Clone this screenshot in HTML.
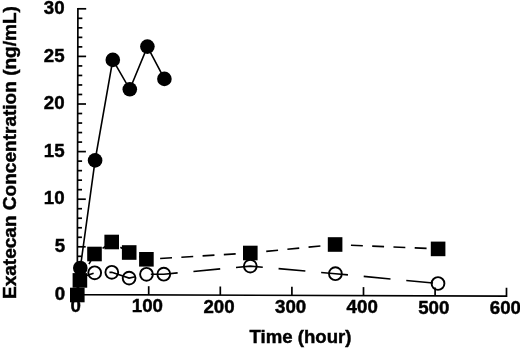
<!DOCTYPE html><html><head><meta charset="utf-8"><style>html,body{margin:0;padding:0;background:#fff;overflow:hidden;}svg{display:block;}</style></head><body>
<svg width="520" height="348" viewBox="0 0 520 348">
<defs><filter id="b" x="-5%" y="-5%" width="110%" height="110%"><feGaussianBlur stdDeviation="0.3"/></filter></defs>
<rect width="520" height="348" fill="#fff"/>
<g filter="url(#b)">
<g stroke="#000" fill="none">
<polyline stroke-width="1.7" points="77.90,8.00 77.30,294.60 506.5,296.20 506.5,287.80"/>
<line stroke-width="1.7" x1="77.90" y1="8.80" x2="86.20" y2="8.80"/>
<line stroke-width="1.7" x1="77.88" y1="18.32" x2="82.38" y2="18.32"/>
<line stroke-width="1.7" x1="77.86" y1="27.84" x2="82.36" y2="27.84"/>
<line stroke-width="1.7" x1="77.84" y1="37.36" x2="82.34" y2="37.36"/>
<line stroke-width="1.7" x1="77.82" y1="46.88" x2="82.32" y2="46.88"/>
<line stroke-width="1.7" x1="77.80" y1="56.40" x2="86.10" y2="56.40"/>
<line stroke-width="1.7" x1="77.78" y1="65.92" x2="82.28" y2="65.92"/>
<line stroke-width="1.7" x1="77.76" y1="75.44" x2="82.26" y2="75.44"/>
<line stroke-width="1.7" x1="77.74" y1="84.96" x2="82.24" y2="84.96"/>
<line stroke-width="1.7" x1="77.72" y1="94.48" x2="82.22" y2="94.48"/>
<line stroke-width="1.7" x1="77.70" y1="104.00" x2="86.00" y2="104.00"/>
<line stroke-width="1.7" x1="77.68" y1="113.52" x2="82.18" y2="113.52"/>
<line stroke-width="1.7" x1="77.66" y1="123.04" x2="82.16" y2="123.04"/>
<line stroke-width="1.7" x1="77.64" y1="132.56" x2="82.14" y2="132.56"/>
<line stroke-width="1.7" x1="77.62" y1="142.08" x2="82.12" y2="142.08"/>
<line stroke-width="1.7" x1="77.60" y1="151.60" x2="85.90" y2="151.60"/>
<line stroke-width="1.7" x1="77.58" y1="161.12" x2="82.08" y2="161.12"/>
<line stroke-width="1.7" x1="77.56" y1="170.64" x2="82.06" y2="170.64"/>
<line stroke-width="1.7" x1="77.54" y1="180.16" x2="82.04" y2="180.16"/>
<line stroke-width="1.7" x1="77.52" y1="189.68" x2="82.02" y2="189.68"/>
<line stroke-width="1.7" x1="77.50" y1="199.20" x2="85.80" y2="199.20"/>
<line stroke-width="1.7" x1="77.48" y1="208.72" x2="81.98" y2="208.72"/>
<line stroke-width="1.7" x1="77.46" y1="218.24" x2="81.96" y2="218.24"/>
<line stroke-width="1.7" x1="77.44" y1="227.76" x2="81.94" y2="227.76"/>
<line stroke-width="1.7" x1="77.42" y1="237.28" x2="81.92" y2="237.28"/>
<line stroke-width="1.7" x1="77.40" y1="246.80" x2="85.70" y2="246.80"/>
<line stroke-width="1.7" x1="77.38" y1="256.32" x2="81.88" y2="256.32"/>
<line stroke-width="1.7" x1="77.36" y1="265.84" x2="81.86" y2="265.84"/>
<line stroke-width="1.7" x1="77.34" y1="275.36" x2="81.84" y2="275.36"/>
<line stroke-width="1.7" x1="77.32" y1="284.88" x2="81.82" y2="284.88"/>
<line stroke-width="1.7" x1="148.70" y1="294.70" x2="148.70" y2="286.20"/>
<line stroke-width="1.7" x1="220.30" y1="295.00" x2="220.30" y2="286.50"/>
<line stroke-width="1.7" x1="291.90" y1="295.30" x2="291.90" y2="286.80"/>
<line stroke-width="1.7" x1="363.50" y1="295.60" x2="363.50" y2="287.10"/>
<line stroke-width="1.7" x1="435.10" y1="295.90" x2="435.10" y2="287.40"/>
</g>
<polyline points="77.4,294.7 80.3,268.0 95.1,160.4 112.8,59.9 129.8,89.3 147.4,46.6 164.4,78.9" fill="none" stroke="#000" stroke-width="1.6"/>
<polyline points="77.5,294.7 80.0,277.7 94.7,272.8 111.8,272.3 129.1,278.1 146.5,274.3 163.8,274.2 250.3,266.1 335.4,273.7 438.0,283.5" fill="none" stroke="#000" stroke-width="1.6" stroke-dasharray="26.9 15.85" stroke-dashoffset="38.1"/>
<polyline points="77.3,295.0 79.9,280.4 94.5,254.0 111.7,242.0 129.2,252.5 146.4,259.3 250.3,253.0 335.1,244.5 438.1,248.9" fill="none" stroke="#000" stroke-width="1.6" stroke-dasharray="11.9 9.37" stroke-dashoffset="9.0"/>
<circle cx="94.7" cy="272.8" r="6.4" fill="none" stroke="#000" stroke-width="1.9"/>
<circle cx="111.8" cy="272.3" r="6.4" fill="none" stroke="#000" stroke-width="1.9"/>
<circle cx="129.1" cy="278.1" r="6.4" fill="none" stroke="#000" stroke-width="1.9"/>
<circle cx="146.5" cy="274.3" r="6.4" fill="none" stroke="#000" stroke-width="1.9"/>
<circle cx="163.8" cy="274.2" r="6.4" fill="none" stroke="#000" stroke-width="1.9"/>
<circle cx="250.3" cy="266.1" r="6.4" fill="none" stroke="#000" stroke-width="1.9"/>
<circle cx="335.4" cy="273.7" r="6.4" fill="none" stroke="#000" stroke-width="1.9"/>
<circle cx="438" cy="283.5" r="6.4" fill="none" stroke="#000" stroke-width="1.9"/>
<circle cx="80.3" cy="268" r="7.3" fill="#000"/>
<circle cx="95.1" cy="160.4" r="7.3" fill="#000"/>
<circle cx="112.8" cy="59.9" r="7.3" fill="#000"/>
<circle cx="129.8" cy="89.3" r="7.3" fill="#000"/>
<circle cx="147.4" cy="46.6" r="7.3" fill="#000"/>
<circle cx="164.4" cy="78.9" r="7.3" fill="#000"/>
<rect x="70.00" y="287.70" width="14.6" height="14.6" fill="#000"/>
<rect x="72.60" y="273.10" width="14.6" height="14.6" fill="#000"/>
<rect x="87.20" y="246.70" width="14.6" height="14.6" fill="#000"/>
<rect x="104.40" y="234.70" width="14.6" height="14.6" fill="#000"/>
<rect x="121.90" y="245.20" width="14.6" height="14.6" fill="#000"/>
<rect x="139.10" y="252.00" width="14.6" height="14.6" fill="#000"/>
<rect x="243.00" y="245.70" width="14.6" height="14.6" fill="#000"/>
<rect x="327.80" y="237.20" width="14.6" height="14.6" fill="#000"/>
<rect x="430.80" y="241.60" width="14.6" height="14.6" fill="#000"/>
<g font-family="'Liberation Sans', sans-serif" font-weight="bold" font-size="18.7" fill="#000" stroke="#000" stroke-width="0.45">
<text x="64.57" y="13.92" text-anchor="end">30</text>
<text x="64.57" y="61.52" text-anchor="end">25</text>
<text x="64.57" y="109.12" text-anchor="end">20</text>
<text x="64.57" y="156.72" text-anchor="end">15</text>
<text x="64.57" y="204.32" text-anchor="end">10</text>
<text x="65.20" y="251.92" text-anchor="end">5</text>
<text x="65.20" y="299.52" text-anchor="end">0</text>
<text x="75.80" y="312.08" text-anchor="middle">0</text>
<text x="147.40" y="312.40" text-anchor="middle">100</text>
<text x="219.00" y="312.72" text-anchor="middle">200</text>
<text x="290.60" y="313.05" text-anchor="middle">300</text>
<text x="362.20" y="313.37" text-anchor="middle">400</text>
<text x="433.80" y="313.69" text-anchor="middle">500</text>
<text x="505.40" y="314.01" text-anchor="middle">600</text>
</g>
<text font-family="'Liberation Sans', sans-serif" font-weight="bold" x="249.5" y="342.8" font-size="18.6" stroke="#000" stroke-width="0.45">Time (hour)</text>
<text font-family="'Liberation Sans', sans-serif" font-weight="bold" transform="translate(15.5,299.0) rotate(-90)" font-size="19.05" stroke="#000" stroke-width="0.45">Exatecan Concentration (ng/mL)</text>
</g>
</svg></body></html>
